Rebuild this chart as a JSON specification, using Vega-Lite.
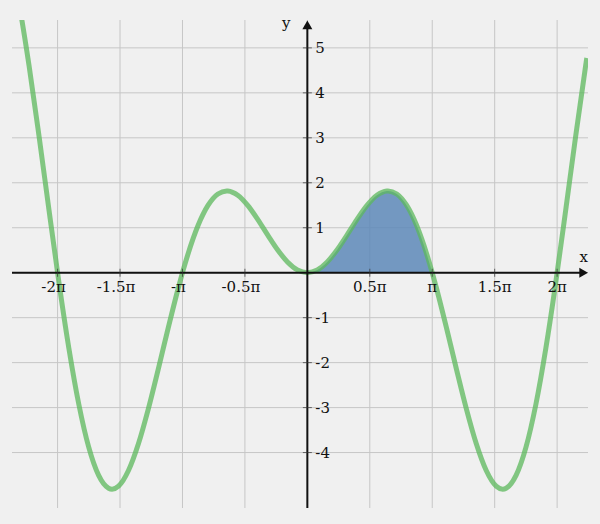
{
  "$schema": "https://vega.github.io/schema/vega-lite/v6.json",
  "width": 600,
  "height": 524,
  "autosize": {"type": "fit", "contains": "padding"},
  "padding": {"left": 11, "right": 11, "top": 16, "bottom": 15},
  "background": "#f0f0f0",
  "config": {"view": {"stroke": null}},
  "datasets": {
    "curve": [
      {"x": -7.5, "y": 7.035}, {"x": -7.25, "y": 5.9675}, {"x": -7.0, "y": 4.5989}, {"x": -6.75, "y": 3.0375},
      {"x": -6.5, "y": 1.3982}, {"x": -6.2832, "y": 0}, {"x": -6.25, "y": -0.2075}, {"x": -6.0, "y": -1.6765},
      {"x": -5.75, "y": -2.9227}, {"x": -5.5, "y": -3.8803}, {"x": -5.25, "y": -4.5092}, {"x": -5.0, "y": -4.7946},
      {"x": -4.9132, "y": -4.8145}, {"x": -4.75, "y": -4.7467}, {"x": -4.5, "y": -4.3988}, {"x": -4.25, "y": -3.8038},
      {"x": -4.0, "y": -3.0272}, {"x": -3.75, "y": -2.1435}, {"x": -3.5, "y": -1.2278}, {"x": -3.25, "y": -0.3516},
      {"x": -3.1416, "y": 0}, {"x": -3.0, "y": 0.4234}, {"x": -2.75, "y": 1.0497}, {"x": -2.5, "y": 1.4962},
      {"x": -2.25, "y": 1.7507}, {"x": -2.0288, "y": 1.8197}, {"x": -2.0, "y": 1.8186}, {"x": -1.75, "y": 1.722},
      {"x": -1.5, "y": 1.4962}, {"x": -1.25, "y": 1.1862}, {"x": -1.0, "y": 0.8415}, {"x": -0.75, "y": 0.5112},
      {"x": -0.5, "y": 0.2397}, {"x": -0.25, "y": 0.0619}, {"x": 0, "y": 0},
      {"x": 0.25, "y": 0.0619}, {"x": 0.5, "y": 0.2397}, {"x": 0.75, "y": 0.5112}, {"x": 1.0, "y": 0.8415},
      {"x": 1.25, "y": 1.1862}, {"x": 1.5, "y": 1.4962}, {"x": 1.75, "y": 1.722}, {"x": 2.0, "y": 1.8186},
      {"x": 2.0288, "y": 1.8197}, {"x": 2.25, "y": 1.7507}, {"x": 2.5, "y": 1.4962}, {"x": 2.75, "y": 1.0497},
      {"x": 3.0, "y": 0.4234}, {"x": 3.1416, "y": 0}, {"x": 3.25, "y": -0.3516}, {"x": 3.5, "y": -1.2278},
      {"x": 3.75, "y": -2.1435}, {"x": 4.0, "y": -3.0272}, {"x": 4.25, "y": -3.8038}, {"x": 4.5, "y": -4.3988},
      {"x": 4.75, "y": -4.7467}, {"x": 4.9132, "y": -4.8145}, {"x": 5.0, "y": -4.7946}, {"x": 5.25, "y": -4.5092},
      {"x": 5.5, "y": -3.8803}, {"x": 5.75, "y": -2.9227}, {"x": 6.0, "y": -1.6765}, {"x": 6.25, "y": -0.2075},
      {"x": 6.2832, "y": 0}, {"x": 6.5, "y": 1.3982}, {"x": 6.75, "y": 3.0375}, {"x": 7.0, "y": 4.5989},
      {"x": 7.03, "y": 4.776}
    ],
    "xgrid": [
      {"v": -6.2832, "label": "-2π"}, {"v": -4.7124, "label": "-1.5π"}, {"v": -3.1416, "label": "-π"},
      {"v": -1.5708, "label": "-0.5π"}, {"v": 0, "label": ""}, {"v": 1.5708, "label": "0.5π"},
      {"v": 3.1416, "label": "π"}, {"v": 4.7124, "label": "1.5π"}, {"v": 6.2832, "label": "2π"}
    ],
    "ygrid": [
      {"v": -4, "label": "-4"}, {"v": -3, "label": "-3"}, {"v": -2, "label": "-2"}, {"v": -1, "label": "-1"},
      {"v": 0, "label": ""}, {"v": 1, "label": "1"}, {"v": 2, "label": "2"}, {"v": 3, "label": "3"},
      {"v": 4, "label": "4"}, {"v": 5, "label": "5"}
    ],
    "axes": [
      {"x": -7.43, "y": 0, "x2": 6.95, "y2": 0},
      {"x": 0, "y": -5.233, "x2": 0, "y2": 5.51}
    ],
    "arrows": [
      {"axis": "x", "x": 6.95, "y": 0},
      {"axis": "y", "x": 0, "y": 5.51}
    ]
  },
  "layer": [
    {
      "data": {"name": "xgrid"},
      "mark": {"type": "rule", "color": "#c6c6c6", "strokeWidth": 1},
      "encoding": {
        "x": {"field": "v", "type": "quantitative", "axis": null, "scale": {"domain": [-7.43, 7.06], "nice": false, "zero": false}}
      }
    },
    {
      "data": {"name": "ygrid"},
      "mark": {"type": "rule", "color": "#c6c6c6", "strokeWidth": 1},
      "encoding": {
        "y": {"field": "v", "type": "quantitative", "axis": null, "scale": {"domain": [-5.233, 5.62], "nice": false, "zero": false}}
      }
    },
    {
      "data": {"name": "curve"},
      "transform": [{"filter": "datum.x >= 0 && datum.x <= 3.1416"}],
      "mark": {"type": "area", "color": "#5d88b8", "opacity": 0.85, "interpolate": "monotone"},
      "encoding": {
        "x": {"field": "x", "type": "quantitative", "axis": null, "scale": {"domain": [-7.43, 7.06], "nice": false, "zero": false}},
        "y": {"field": "y", "type": "quantitative", "axis": null, "scale": {"domain": [-5.233, 5.62], "nice": false, "zero": false}},
        "y2": {"datum": 0}
      }
    },
    {
      "data": {"name": "curve"},
      "mark": {"type": "line", "color": "#5cb85c", "strokeWidth": 5, "opacity": 0.75, "interpolate": "monotone", "clip": true},
      "encoding": {
        "x": {"field": "x", "type": "quantitative", "axis": null, "scale": {"domain": [-7.43, 7.06], "nice": false, "zero": false}},
        "y": {"field": "y", "type": "quantitative", "axis": null, "scale": {"domain": [-5.233, 5.62], "nice": false, "zero": false}}
      }
    },
    {
      "data": {"name": "axes"},
      "mark": {"type": "rule", "color": "#111111", "strokeWidth": 2},
      "encoding": {
        "x": {"field": "x", "type": "quantitative", "axis": null, "scale": {"domain": [-7.43, 7.06], "nice": false, "zero": false}},
        "y": {"field": "y", "type": "quantitative", "axis": null, "scale": {"domain": [-5.233, 5.62], "nice": false, "zero": false}},
        "x2": {"field": "x2"},
        "y2": {"field": "y2"}
      }
    },
    {
      "data": {"name": "arrows"},
      "mark": {"type": "point", "filled": true, "color": "#111111", "size": 100, "opacity": 1},
      "encoding": {
        "x": {"field": "x", "type": "quantitative", "axis": null, "scale": {"domain": [-7.43, 7.06], "nice": false, "zero": false}},
        "y": {"field": "y", "type": "quantitative", "axis": null, "scale": {"domain": [-5.233, 5.62], "nice": false, "zero": false}},
        "shape": {"field": "axis", "type": "nominal", "legend": null, "scale": {"domain": ["x", "y"], "range": ["triangle-right", "triangle-up"]}}
      }
    },
    {
      "data": {"name": "xgrid"},
      "transform": [{"filter": "datum.v != 0"}],
      "mark": {"type": "tick", "orient": "vertical", "size": 8, "thickness": 1, "color": "#333333"},
      "encoding": {
        "x": {"field": "v", "type": "quantitative", "axis": null, "scale": {"domain": [-7.43, 7.06], "nice": false, "zero": false}},
        "y": {"datum": 0, "type": "quantitative", "axis": null, "scale": {"domain": [-5.233, 5.62], "nice": false, "zero": false}}
      }
    },
    {
      "data": {"name": "ygrid"},
      "transform": [{"filter": "datum.v != 0"}],
      "mark": {"type": "tick", "orient": "horizontal", "size": 9, "thickness": 1, "color": "#333333"},
      "encoding": {
        "x": {"datum": 0, "type": "quantitative", "axis": null, "scale": {"domain": [-7.43, 7.06], "nice": false, "zero": false}},
        "y": {"field": "v", "type": "quantitative", "axis": null, "scale": {"domain": [-5.233, 5.62], "nice": false, "zero": false}}
      }
    },
    {
      "data": {"name": "xgrid"},
      "transform": [{"filter": "datum.v > 0"}],
      "mark": {"type": "text", "font": "DejaVu Serif", "fontSize": 15, "color": "#111111", "align": "center", "baseline": "alphabetic", "dy": 19},
      "encoding": {
        "x": {"field": "v", "type": "quantitative", "axis": null, "scale": {"domain": [-7.43, 7.06], "nice": false, "zero": false}},
        "y": {"datum": 0, "type": "quantitative", "axis": null, "scale": {"domain": [-5.233, 5.62], "nice": false, "zero": false}},
        "text": {"field": "label"}
      }
    },
    {
      "data": {"name": "xgrid"},
      "transform": [{"filter": "datum.v < 0"}],
      "mark": {"type": "text", "font": "DejaVu Serif", "fontSize": 15, "color": "#111111", "align": "center", "baseline": "alphabetic", "dy": 19, "dx": -4},
      "encoding": {
        "x": {"field": "v", "type": "quantitative", "axis": null, "scale": {"domain": [-7.43, 7.06], "nice": false, "zero": false}},
        "y": {"datum": 0, "type": "quantitative", "axis": null, "scale": {"domain": [-5.233, 5.62], "nice": false, "zero": false}},
        "text": {"field": "label"}
      }
    },
    {
      "data": {"name": "ygrid"},
      "transform": [{"filter": "datum.v != 0"}],
      "mark": {"type": "text", "font": "DejaVu Serif", "fontSize": 15, "color": "#111111", "align": "left", "baseline": "middle", "dx": 8},
      "encoding": {
        "x": {"datum": 0, "type": "quantitative", "axis": null, "scale": {"domain": [-7.43, 7.06], "nice": false, "zero": false}},
        "y": {"field": "v", "type": "quantitative", "axis": null, "scale": {"domain": [-5.233, 5.62], "nice": false, "zero": false}},
        "text": {"field": "label"}
      }
    },
    {
      "data": {"name": "arrows"},
      "transform": [{"filter": "datum.axis == 'x'"}],
      "mark": {"type": "text", "font": "DejaVu Serif", "fontSize": 15, "color": "#111111", "align": "center", "baseline": "alphabetic", "dy": -11},
      "encoding": {
        "x": {"field": "x", "type": "quantitative", "axis": null, "scale": {"domain": [-7.43, 7.06], "nice": false, "zero": false}},
        "y": {"field": "y", "type": "quantitative", "axis": null, "scale": {"domain": [-5.233, 5.62], "nice": false, "zero": false}},
        "text": {"field": "axis"}
      }
    },
    {
      "data": {"name": "arrows"},
      "transform": [{"filter": "datum.axis == 'y'"}],
      "mark": {"type": "text", "font": "DejaVu Serif", "fontSize": 15, "color": "#111111", "align": "center", "baseline": "alphabetic", "dx": -21, "dy": 3},
      "encoding": {
        "x": {"field": "x", "type": "quantitative", "axis": null, "scale": {"domain": [-7.43, 7.06], "nice": false, "zero": false}},
        "y": {"field": "y", "type": "quantitative", "axis": null, "scale": {"domain": [-5.233, 5.62], "nice": false, "zero": false}},
        "text": {"field": "axis"}
      }
    }
  ]
}
